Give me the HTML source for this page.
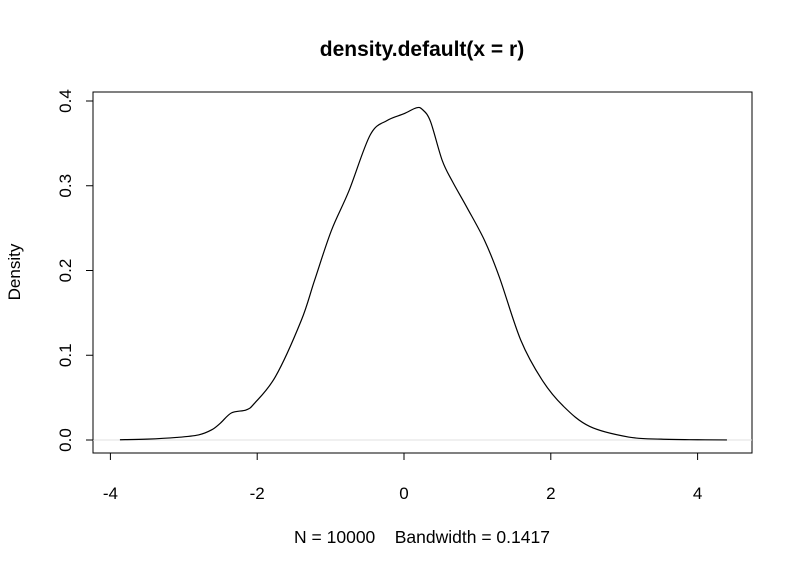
<!DOCTYPE html>
<html><head><meta charset="utf-8"><style>
body{margin:0;background:#fff}
svg{display:block;font-family:"Liberation Sans",sans-serif}
</style></head><body>
<svg id="c" width="800" height="571">
<text x="422" y="56" font-size="21" font-weight="bold" text-anchor="middle">density.default(x = r)</text>
<text x="422" y="543" font-size="17.5" text-anchor="middle" style="white-space:pre">N = 10000    Bandwidth = 0.1417</text>
<text transform="translate(20,272) rotate(-90)" font-size="17" text-anchor="middle">Density</text>
<rect x="93" y="92" width="659" height="361" fill="none" stroke="#000"/>
<g id="ax"></g>
</svg>
<script>
const xs=[-3.87,-3.5,-3.1,-2.8,-2.62,-2.5,-2.35,-2.15,-2.04,-1.75,-1.4,-1.22,-0.99,-0.75,-0.46,-0.23,0,0.17,0.25,0.36,0.52,0.66,0.86,1.1,1.3,1.59,1.88,2.17,2.53,3.06,3.5,4.0,4.4];
const ys=[0.0003,0.001,0.003,0.006,0.012,0.02,0.032,0.0355,0.043,0.075,0.141,0.188,0.247,0.294,0.36,0.377,0.385,0.392,0.39,0.376,0.33,0.305,0.274,0.235,0.192,0.118,0.071,0.04,0.016,0.0035,0.001,0.0003,0.0001];
const xTicks=[-4,-2,0,2,4];
const yTicks=[0,0.1,0.2,0.3,0.4];
const yLabels=["0.0","0.1","0.2","0.3","0.4"];
const X=v=>404+v*73.4, Y=v=>440-v*847.5;
const ns="http://www.w3.org/2000/svg", g=document.getElementById('ax');
function mk(t,a){const e=document.createElementNS(ns,t);for(const k in a)e.setAttribute(k,a[k]);g.appendChild(e);return e;}
const z=mk('line',{x1:93,x2:752,y1:Y(0),y2:Y(0),stroke:'#e0e0e0'});


let p=xs.map((x,i)=>[X(x),Y(ys[i])]);
let d='M'+p[0][0]+','+p[0][1];
for(let i=0;i<p.length-1;i++){const a=p[i-1]||p[i],b=p[i],c=p[i+1],e=p[i+2]||c;
d+=` C${b[0]+(c[0]-a[0])/6},${b[1]+(c[1]-a[1])/6} ${c[0]-(e[0]-b[0])/6},${c[1]-(e[1]-b[1])/6} ${c[0]},${c[1]}`;}
const cv=mk('path',{d:d,fill:'none',stroke:'#000','stroke-width':1.2});


mk('line',{x1:X(-4),x2:X(4),y1:453,y2:453,stroke:'#000'});
xTicks.forEach(t=>{mk('line',{x1:X(t),x2:X(t),y1:453,y2:460,stroke:'#000'});
const l=mk('text',{x:X(t),y:499,'font-size':17,'text-anchor':'middle'});l.textContent=t;

});
mk('line',{x1:93,x2:93,y1:Y(0),y2:Y(0.4),stroke:'#000'});
yTicks.forEach((t,i)=>{mk('line',{x1:86,x2:93,y1:Y(t),y2:Y(t),stroke:'#000'});
const l=mk('text',{transform:`translate(71,${Y(t)}) rotate(-90)`,'font-size':17,'text-anchor':'middle'});l.textContent=yLabels[i];

});
</script>
</body></html>
